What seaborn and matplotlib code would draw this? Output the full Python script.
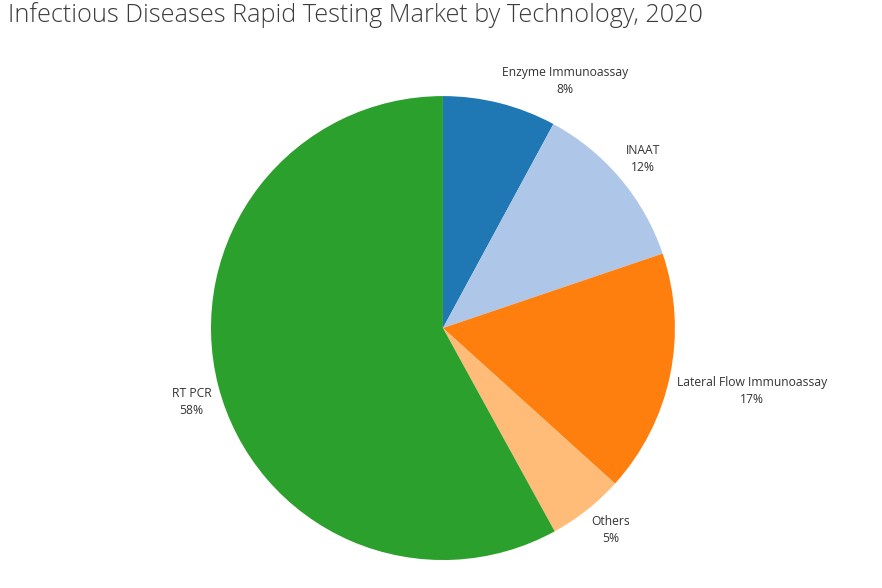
import numpy as np
import matplotlib
matplotlib.use("Agg")
import matplotlib.pyplot as plt
import seaborn as sns

sns.set_theme(style="white")
plt.rcParams['font.family'] = ['Open Sans', 'DejaVu Sans']

# Market share by technology (percent), clockwise from 12 o'clock
technologies = ['Enzyme Immunoassay', 'INAAT', 'Lateral Flow Immunoassay', 'Others', 'RT PCR']
shares = [7.9, 11.9, 16.9, 5.3, 58.0]
share_labels = ['8%', '12%', '17%', '5%', '58%']

colors = sns.color_palette("tab20", 5)

fig = plt.figure(figsize=(8.82, 5.88), dpi=100)
ax = fig.add_axes([0.2392, 0.0476, 0.526, 0.789])

wedges, _ = ax.pie(shares, colors=colors, startangle=90, counterclock=False,
                   radius=1, wedgeprops=dict(linewidth=0))
ax.set_xlim(-1, 1)
ax.set_ylim(-1, 1)
ax.set_aspect('equal')
ax.axis('off')

for w, name, lab in zip(wedges, technologies, share_labels):
    ang = np.deg2rad((w.theta1 + w.theta2) / 2)
    x, y = np.cos(ang) * 1.03, np.sin(ang) * 1.03
    ha = 'left' if x > 0.1 else ('right' if x < -0.1 else 'center')
    va = 'bottom' if y > 0.1 else ('top' if y < -0.1 else 'center')
    ax.text(x, y, f"{name}\n{lab}", ha=ha, va=va, multialignment='center',
            fontsize=8.7, color='#333333', linespacing=1.4)

fig.text(0.009, 0.997, "Infectious Diseases Rapid Testing Market by Technology, 2020",
         ha='left', va='top', fontsize=18.2, fontweight='light', color='#3c3c3c')

fig.savefig("out.png", dpi=100)
